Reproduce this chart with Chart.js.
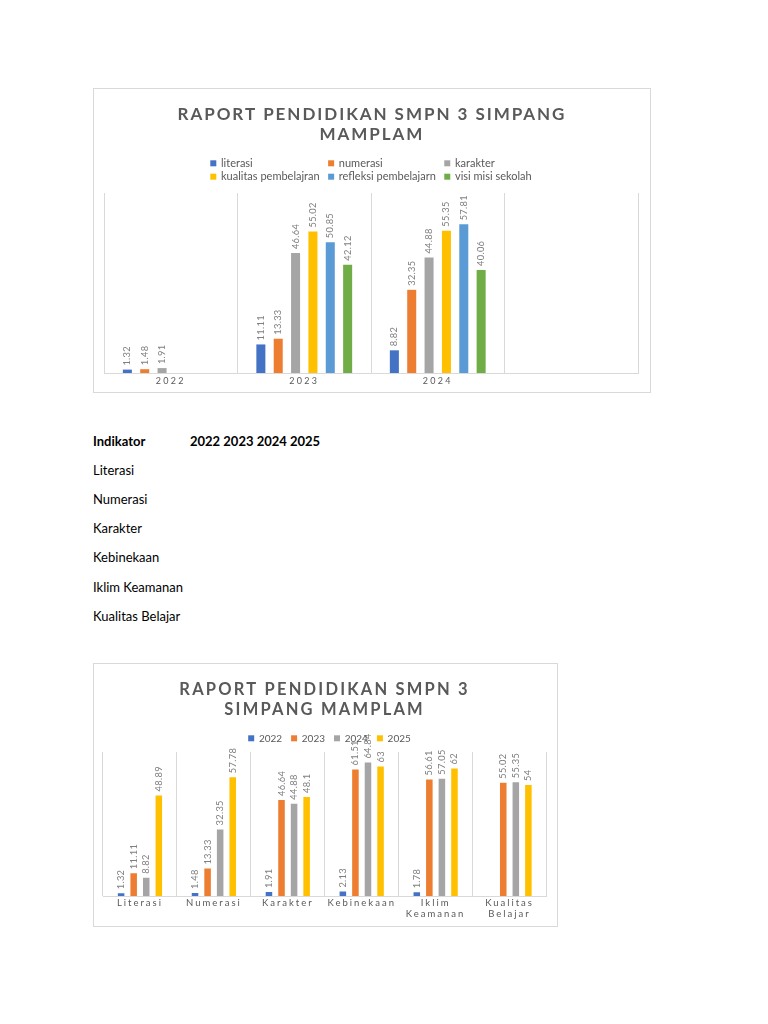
<!DOCTYPE html>
<html>
<head>
<meta charset="utf-8">
<script src="https://cdn.jsdelivr.net/npm/chart.js@4.4.1/dist/chart.umd.min.js"></script>
<style>
  html, body { margin: 0; padding: 0; background: #fff; width: 768px; height: 1024px; overflow: hidden; font-family: Lato, "Noto Sans", sans-serif; }
  .box { position: absolute; box-sizing: border-box; border: 1px solid #d9d9d9; background: #fff; }
  .box canvas { display: block; }
  .txt { position: absolute; font-size: 13px; line-height: 16px; color: #000; white-space: nowrap; font-family: Lato, sans-serif; }
  .b { font-weight: bold; }
</style>
</head>
<body>
<div class="box" style="left:93px;top:88px;width:558px;height:305px;"><canvas id="c1" width="556" height="303"></canvas></div>
<div id="textBlock"></div>
<div class="box" style="left:93px;top:663px;width:465px;height:264px;"><canvas id="c2" width="463" height="262"></canvas></div>
<script>
// ---------- DATA ----------
const chart1Title = ['RAPORT PENDIDIKAN SMPN 3 SIMPANG', 'MAMPLAM'];
const chart1Categories = ['2022', '2023', '2024', ''];
const chart1SeriesNames = ['literasi', 'numerasi', 'karakter', 'kualitas pembelajran', 'refleksi pembelajarn', 'visi misi sekolah'];
const literasi = [1.32, 11.11, 8.82, null];
const numerasi = [1.48, 13.33, 32.35, null];
const karakter = [1.91, 46.64, 44.88, null];
const kualitasPembelajaran = [null, 55.02, 55.35, null];
const refleksiPembelajaran = [null, 50.85, 57.81, null];
const visiMisiSekolah = [null, 42.12, 40.06, null];

const chart2Title = ['RAPORT PENDIDIKAN SMPN 3', 'SIMPANG MAMPLAM'];
const indicators = ['Literasi', 'Numerasi', 'Karakter', 'Kebinekaan', 'Iklim Keamanan', 'Kualitas Belajar'];
const years = ['2022', '2023', '2024', '2025'];
const values2022 = [1.32, 1.48, 1.91, 2.13, 1.78, null];
const values2023 = [11.11, 13.33, 46.64, 61.51, 56.61, 55.02];
const values2024 = [8.82, 32.35, 44.88, 64.84, 57.05, 55.35];
const values2025 = [48.89, 57.78, 48.1, 63, 62, 54];
const tableHeader = 'Indikator';

const yMin = 0;
const yMax = 70;

// ---------- STYLES ----------
const C_BLUE = '#4472C4', C_ORANGE = '#ED7D31', C_GRAY = '#A5A5A5', C_YELLOW = '#FFC000', C_LBLUE = '#5B9BD5', C_GREEN = '#70AD47';
const TEXT_GRAY = '#595959';
const GRID = '#d9d9d9';

// ---------- TEXT BLOCK ----------
(function () {
  const host = document.getElementById('textBlock');
  function add(t, left, top, bold) {
    const d = document.createElement('div');
    d.className = 'txt' + (bold ? ' b' : '');
    d.style.left = left + 'px';
    d.style.top = top + 'px';
    d.textContent = t;
    host.appendChild(d);
  }
  add(tableHeader, 93, 433, true);
  add(years.join(' '), 190, 433, true);
  indicators.forEach((n, i) => add(n, 93, 433 + (i + 1) * 29.1, false));
})();

// ---------- PLUGIN (title, legend, data labels, spaced ticks) ----------
const decor = {
  id: 'decor',
  afterUpdate(chart, args, o) {
    const s = chart.scales.x;
    if (s && !s.__wrapped) {
      const orig = s.drawLabels;
      s.drawLabels = function (area) {
        const ctx = this.ctx;
        ctx.save();
        ctx.letterSpacing = (o.tickSpacing || 0) + 'px';
        orig.call(this, area);
        ctx.restore();
      };
      s.__wrapped = true;
    }
  },
  afterDatasetsDraw(chart, args, o) {
    const ctx = chart.ctx;
    ctx.save();
    ctx.font = o.labelSize + 'px Lato';
    ctx.fillStyle = '#7f7f7f';
    ctx.letterSpacing = o.labelSpacing + 'px';
    ctx.textAlign = 'left';
    ctx.textBaseline = 'middle';
    chart.data.datasets.forEach((ds, i) => {
      if (!chart.isDatasetVisible(i)) return;
      const meta = chart.getDatasetMeta(i);
      meta.data.forEach((el, j) => {
        const v = ds.data[j];
        if (v === null || v === undefined) return;
        ctx.save();
        ctx.translate(el.x, el.y - o.labelGap);
        ctx.rotate(-Math.PI / 2);
        ctx.fillText(String(v), 0, 0);
        ctx.restore();
      });
    });
    ctx.restore();
  },
  afterDraw(chart, args, o) {
    const ctx = chart.ctx;
    // title
    ctx.save();
    ctx.font = 'bold ' + o.titleSize + 'px Lato';
    ctx.fillStyle = TEXT_GRAY;
    ctx.letterSpacing = o.titleSpacing + 'px';
    ctx.textAlign = 'center';
    ctx.textBaseline = 'alphabetic';
    const cx = chart.width / 2 + o.titleShift + o.titleSpacing / 2;
    o.titleLines.forEach((line, i) => {
      ctx.fillText(line, cx, o.titleY[i] + 0.3585 * o.titleSize);
    });
    ctx.restore();
    // legend
    ctx.save();
    ctx.font = o.legendSize + 'px Lato';
    ctx.textAlign = 'left';
    ctx.textBaseline = 'middle';
    const items = chart.data.datasets.map(d => ({ text: d.label, color: d.backgroundColor }));
    const cols = o.legendCols;
    const box = 6, boxGap = 4.7, gap = o.legendGap;
    const colW = new Array(cols).fill(0);
    items.forEach((it, i) => {
      const w = box + boxGap + ctx.measureText(it.text).width;
      colW[i % cols] = Math.max(colW[i % cols], w);
    });
    const total = colW.reduce((a, b) => a + b, 0) + gap * (cols - 1);
    const startX = chart.width / 2 - total / 2 + o.legendShift;
    items.forEach((it, i) => {
      const c = i % cols, r = Math.floor(i / cols);
      let x = startX;
      for (let k = 0; k < c; k++) x += colW[k] + gap;
      const y = o.legendY[r];
      ctx.fillStyle = it.color;
      ctx.fillRect(x, y - box / 2, box, box);
      ctx.fillStyle = TEXT_GRAY;
      ctx.fillText(it.text, x + box + boxGap, y);
    });
    ctx.restore();
  }
};

function xScale(height, fontSize, lineHeight, padding) {
  return {
    type: 'category',
    offset: true,
    grid: { offset: true, color: GRID, lineWidth: 1, drawTicks: false, tickLength: 0 },
    border: { color: GRID, width: 1 },
    ticks: { color: TEXT_GRAY, padding: padding, autoSkip: false, maxRotation: 0, minRotation: 0,
             font: { family: 'Lato', size: fontSize, lineHeight: lineHeight } },
    afterFit: s => { s.height = height; }
  };
}

// ---------- CHART 1 ----------
const ds1 = [literasi, numerasi, karakter, kualitasPembelajaran, refleksiPembelajaran, visiMisiSekolah];
const colors1 = [C_BLUE, C_ORANGE, C_GRAY, C_YELLOW, C_LBLUE, C_GREEN];
new Chart(document.getElementById('c1'), {
  type: 'bar',
  data: {
    labels: chart1Categories,
    datasets: ds1.map((d, i) => ({
      label: chart1SeriesNames[i], data: d, backgroundColor: colors1[i],
      barPercentage: 0.52, categoryPercentage: 0.78, borderWidth: 0
    }))
  },
  options: {
    responsive: false, animation: false, events: [],
    layout: { padding: { top: 104, left: 10, right: 12, bottom: 0 } },
    scales: {
      x: xScale(19, 9, 1.2, 3),
      y: { display: false, min: yMin, max: yMax }
    },
    plugins: {
      legend: { display: false }, title: { display: false }, tooltip: { enabled: false },
      decor: {
        tickSpacing: 2.3, labelSize: 9.3, labelSpacing: 0.3, labelGap: 4,
        titleLines: chart1Title, titleSize: 17, titleSpacing: 1.95, titleShift: -1, titleY: [24.7, 45],
        legendSize: 11, legendCols: 3, legendGap: 8.5, legendShift: -1, legendY: [74.3, 87.7]
      }
    }
  },
  plugins: [decor]
});

// ---------- CHART 2 ----------
const ds2 = [values2022, values2023, values2024, values2025];
const colors2 = [C_BLUE, C_ORANGE, C_GRAY, C_YELLOW];
new Chart(document.getElementById('c2'), {
  type: 'bar',
  data: {
    labels: indicators.map(n => n.split(' ')),
    datasets: ds2.map((d, i) => ({
      label: years[i], data: d, backgroundColor: colors2[i],
      barPercentage: 0.52, categoryPercentage: 0.68, borderWidth: 0
    }))
  },
  options: {
    responsive: false, animation: false, events: [],
    layout: { padding: { top: 88, left: 9, right: 10.5, bottom: 0 } },
    scales: {
      x: xScale(30, 9.5, 1.1, 2),
      y: { display: false, min: yMin, max: yMax }
    },
    plugins: {
      legend: { display: false }, title: { display: false }, tooltip: { enabled: false },
      decor: {
        tickSpacing: 2, labelSize: 9.3, labelSpacing: 0.3, labelGap: 4,
        titleLines: chart2Title, titleSize: 16.5, titleSpacing: 2.2, titleShift: -2, titleY: [25.2, 44.7],
        legendSize: 10, legendCols: 4, legendGap: 9, legendShift: 4, legendY: [74.3]
      }
    }
  },
  plugins: [decor]
});
</script>
</body>
</html>
